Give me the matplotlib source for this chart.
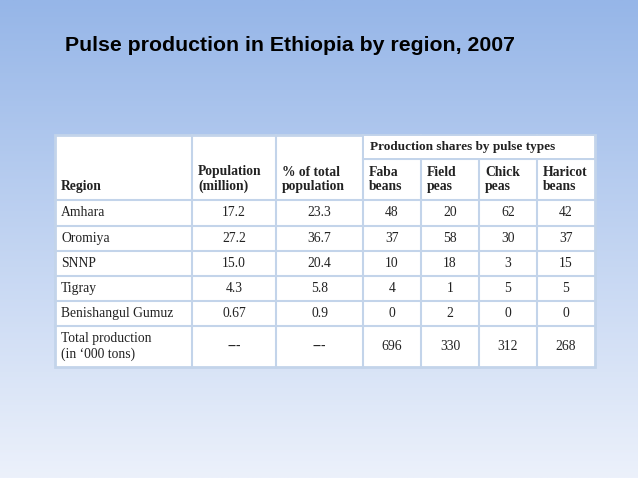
import matplotlib
matplotlib.use("Agg")
import matplotlib.pyplot as plt
import numpy as np

title = "Pulse production in Ethiopia by region, 2007"
regions = ["Amhara", "Oromiya", "SNNP", "Tigray", "Benishangul Gumuz", "Total production\n(in \u2018000 tons)"]
population = ["17.2", "27.2", "15.0", "4.3", "0.67", "---"]
pct_pop = ["23.3", "36.7", "20.4", "5.8", "0.9", "---"]
faba = ["48", "37", "10", "4", "0", "696"]
field = ["20", "58", "18", "1", "2", "330"]
chick = ["62", "30", "3", "5", "0", "312"]
haricot = ["42", "37", "15", "5", "0", "268"]
col_headers = ["Region", "Population\n(million)", "% of total\npopulation", "Faba\nbeans", "Field\npeas", "Chick\npeas", "Haricot\nbeans"]
group_header = "Production shares by pulse types"

W, H = 638, 478
fig = plt.figure(figsize=(W/100, H/100), dpi=100)
ax = fig.add_axes([0, 0, 1, 1])
ax.set_xlim(0, W); ax.set_ylim(H, 0); ax.axis("off")

grad = np.linspace(0, 1, 256)[:, None]
top = np.array([150, 182, 232]) / 255
bot = np.array([236, 241, 251]) / 255
img = top * (1 - grad[..., None]) + bot * grad[..., None]
img = np.repeat(img, 2, axis=1)
ax.imshow(img, extent=[0, W, H, 0], aspect="auto", zorder=0)

ax.text(65, 45, title, fontsize=15.3, fontweight="bold", family="Liberation Sans", va="center", ha="left", color="black")

xs = [55, 192, 276, 363, 421, 479, 537, 595]
ys = [135, 159, 200, 226, 251, 276, 301, 326, 367]
line_c = "#c3d4ea"
ax.add_patch(plt.Rectangle((xs[0], ys[0]), xs[-1]-xs[0], ys[-1]-ys[0], facecolor="white", edgecolor=line_c, lw=2, zorder=1))
for x in xs[1:-1]:
    ax.plot([x, x], [ys[0], ys[-1]], color=line_c, lw=1.5, zorder=2)
for y in ys[2:-1]:
    ax.plot([xs[0], xs[-1]], [y, y], color=line_c, lw=1.5, zorder=2)
ax.plot([xs[3], xs[-1]], [ys[1], ys[1]], color=line_c, lw=1.5, zorder=2)
ax.add_patch(plt.Rectangle((xs[3]+1, ys[0]+1), xs[-1]-xs[3]-2, ys[1]-ys[0]-2, facecolor="white", edgecolor="none", zorder=3))

fp = dict(family="Liberation Serif", color="#222222", zorder=4)
ax.text(xs[3]+7, (ys[0]+ys[1])/2, group_header, fontsize=9.5, fontweight="bold", va="center", ha="left", **fp)
for i, h in enumerate(col_headers):
    ax.text(xs[i]+6, ys[2]-7, h, fontsize=9.8, fontweight="bold", va="bottom", ha="left", linespacing=1.15, **fp)

cols = [population, pct_pop, faba, field, chick, haricot]
for r, reg in enumerate(regions):
    yc = (ys[r+2] + ys[r+3]) / 2
    ax.text(xs[0]+6, yc, reg, fontsize=9.8, va="center", ha="left", linespacing=1.15, **fp)
    for c, vals in enumerate(cols):
        xc = (xs[c+1] + xs[c+2]) / 2
        ax.text(xc, yc, vals[r], fontsize=9.8, va="center", ha="center", **fp)

fig.savefig("out.png", dpi=100)
